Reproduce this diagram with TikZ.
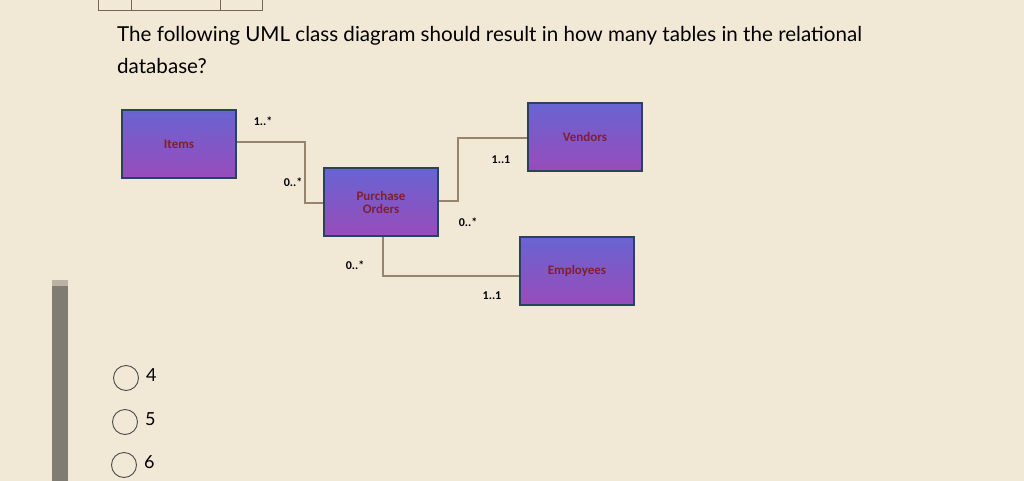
\documentclass[tikz,border=0pt]{standalone}
\usepackage{fontspec}
\setmainfont{Lato}
\newfontfamily\boxfont{Carlito}
\definecolor{bgcol}{RGB}{242,232,214}
\definecolor{barcol}{RGB}{128,124,116}
\definecolor{boxtop}{RGB}{104,100,210}
\definecolor{boxbot}{RGB}{152,76,186}
\definecolor{boxedge}{RGB}{40,68,92}
\definecolor{boxtext}{RGB}{128,30,52}
\definecolor{linecol}{RGB}{150,132,108}
\definecolor{tabcol}{RGB}{120,100,80}
\tikzset{
  cls/.style={draw=boxedge, line width=1.6pt, top color=boxtop, bottom color=boxbot,
    minimum width=114pt, minimum height=68pt, inner sep=0pt,
    font=\boxfont\fontsize{13}{13}\selectfont\bfseries, text=boxtext, align=center},
  conn/.style={draw=linecol, line width=1.6pt},
  mult/.style={font=\boxfont\fontsize{12}{13}\selectfont\bfseries, text=black},
  radio/.style={draw=black!70, line width=0.9pt, circle, minimum size=25pt, inner sep=0pt},
  opt/.style={font=\fontsize{18}{20}\selectfont, anchor=west, inner sep=0pt},
  question/.style={font=\fontsize{20.6}{22}\selectfont, anchor=base west, inner sep=0pt}
}
\begin{document}
\begin{tikzpicture}[x=1pt,y=-1pt]
\useasboundingbox (0,0) rectangle (1024,481);
\fill[bgcol] (0,0) rectangle (1024,481);
% screen artefacts
\fill[barcol] (52,286) rectangle (68,481);
\fill[barcol!50!bgcol] (52,280) rectangle (68,286);
\draw[tabcol, line width=0.8pt] (98,-2) -- (98,10) -- (262,10) -- (262,-2);
\draw[tabcol, line width=0.8pt] (131,-2) -- (131,10);
\draw[tabcol, line width=0.8pt] (220,-2) -- (220,10);
% question
\node[question] (q1) at (117,42) {The following UML class diagram should result in how many tables in the relational};
\node[question] (q2) at (117,74) {database?};
% classes
\node[cls] (items) at (179,144) {Items};
\node[cls] (po) at (381,202) {Purchase\\[0pt]Orders};
\node[cls] (vend) at (585,137) {Vendors};
\node[cls] (emp) at (577,271) {Employees};
% connectors
\coordinate (c1) at (305,142);
\coordinate (c2) at (305,203);
\coordinate (c3) at (458,201);
\coordinate (c4) at (458,138);
\coordinate (c5) at (383,276);
\draw[conn] (items.east |- c1) -- (c1) -- (c2) -- (po.west |- c2);
\draw[conn] (po.east |- c3) -- (c3) -- (c4) -- (vend.west |- c4);
\draw[conn] (po.south -| c5) -- (c5) -- (emp.west |- c5);
% multiplicities
\node[mult] (m1) at (263,121) {1..*};
\node[mult] (m2) at (293,182) {0..*};
\node[mult] (m3) at (501,160) {1..1};
\node[mult] (m4) at (468,222) {0..*};
\node[mult] (m5) at (355,265) {0..*};
\node[mult] (m6) at (492,296) {1..1};
% options
\node[radio] (r1) at (126,378) {};
\node[radio] (r2) at (125,422) {};
\node[radio] (r3) at (124,465) {};
\node[opt] (o1) at (146,375) {4};
\node[opt] (o2) at (145,419) {5};
\node[opt] (o3) at (144,462) {6};
\end{tikzpicture}
\end{document}
